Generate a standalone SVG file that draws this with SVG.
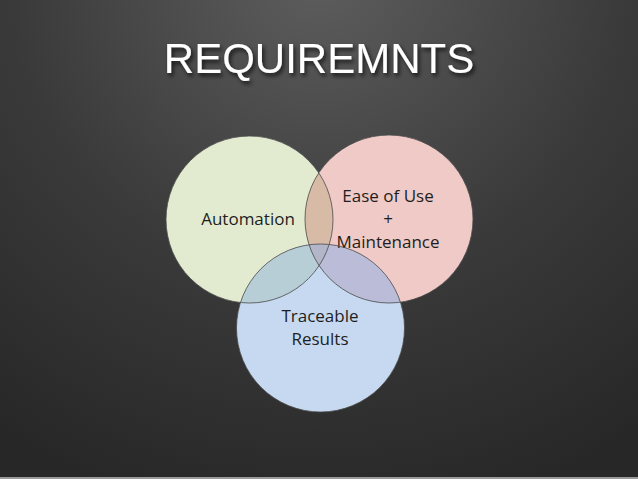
<svg xmlns="http://www.w3.org/2000/svg" width="638" height="479" viewBox="0 0 638 479">
  <defs>
    <radialGradient id="bg" gradientUnits="userSpaceOnUse" cx="319" cy="-30" r="560">
      <stop offset="0" stop-color="#5e5e5e"/>
      <stop offset="0.55" stop-color="#3a3a3a"/>
      <stop offset="1" stop-color="#272727"/>
    </radialGradient>
    <filter id="shadow" x="-10%" y="-30%" width="120%" height="160%">
      <feDropShadow dx="2" dy="3" stdDeviation="2" flood-color="#000" flood-opacity="0.7"/>
    </filter>
    <clipPath id="clipG"><circle cx="249.5" cy="219.5" r="83.5"/></clipPath>
    <clipPath id="clipP"><circle cx="389" cy="219" r="84"/></clipPath>
  </defs>
  <style>
    .lbl { font-family: "Open Sans", "Liberation Sans", sans-serif; font-size: 17px; fill: #1e1e1e; text-anchor: middle; }
    .title { font-family: "Liberation Sans", Arial, sans-serif; font-size: 42px; fill: #ffffff; text-anchor: middle; }
    .edge { fill: none; stroke: #4a4a4a; stroke-width: 1; stroke-opacity: 0.8; }
  </style>
  <rect x="0" y="0" width="638" height="479" fill="url(#bg)"/>
  <rect x="0" y="477" width="638" height="2" fill="#9a9a9a"/>
  <text class="title" x="319" y="73" filter="url(#shadow)">REQUIREMNTS</text>

  <g id="fills">
    <circle cx="249.5" cy="219.5" r="83.5" fill="#e2ebd0"/>
    <circle cx="389" cy="219" r="84" fill="#efcac6"/>
    <circle cx="320.5" cy="328" r="84" fill="#c6d9f0"/>
    <circle cx="389" cy="219" r="84" fill="#d7bba6" clip-path="url(#clipG)"/>
    <circle cx="320.5" cy="328" r="84" fill="#b8ced6" clip-path="url(#clipG)"/>
    <circle cx="320.5" cy="328" r="84" fill="#bbbdd8" clip-path="url(#clipP)"/>
    <g clip-path="url(#clipG)">
      <circle cx="320.5" cy="328" r="84" fill="#b3b6c8" clip-path="url(#clipP)"/>
    </g>
  </g>

  <g id="automation">
    <circle class="edge" cx="249.5" cy="219.5" r="83.5"/>
    <text class="lbl" x="248" y="225">Automation</text>
  </g>
  <g id="ease-of-use">
    <circle class="edge" cx="389" cy="219" r="84"/>
    <text class="lbl" x="388" y="202">Ease of Use</text>
    <text class="lbl" x="388" y="225">+</text>
    <text class="lbl" x="388" y="248">Maintenance</text>
  </g>
  <g id="traceable-results">
    <circle class="edge" cx="320.5" cy="328" r="84"/>
    <text class="lbl" x="320" y="322">Traceable</text>
    <text class="lbl" x="320" y="345">Results</text>
  </g>
  <g id="connectors"></g>
</svg>
